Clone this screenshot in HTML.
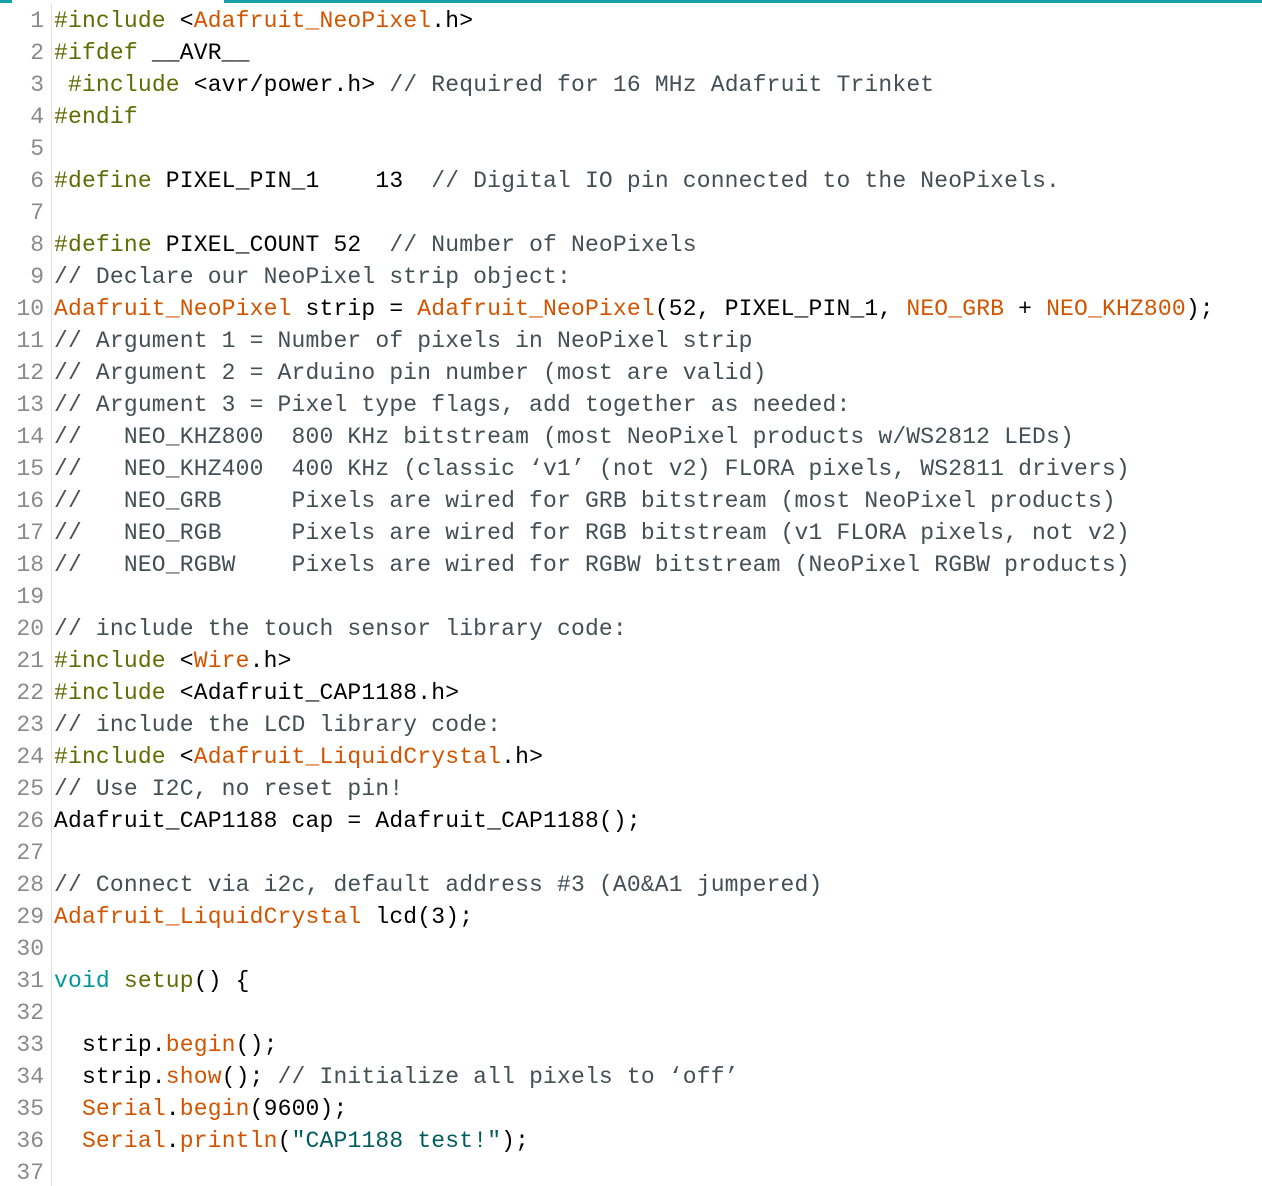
<!DOCTYPE html>
<html><head><meta charset="utf-8"><style>
html,body{margin:0;padding:0;background:#fff;width:1262px;height:1186px;overflow:hidden;position:relative}
.bar1{position:absolute;left:0;top:0;width:12px;height:3px;background:#17a1a5}
.bar2{position:absolute;left:224px;top:0;width:1038px;height:3px;background:#17a1a5}
.gut{position:absolute;left:51px;top:3px;width:1px;height:1183px;background:#e0e0e0}
pre{margin:0;position:absolute;top:5px;font-family:"Liberation Mono",monospace;font-size:23px;line-height:32px;letter-spacing:0.17px}
.nums{left:0;width:44px;text-align:right;color:#8a8a8a;letter-spacing:0}
.code{left:54px;color:#000}
.g{color:#5e6d03}.o{color:#d35400}.c{color:#434f54}.t{color:#00979c}.s{color:#005c5f}
</style></head><body>
<div class="bar1"></div><div class="bar2"></div><div class="gut"></div>
<pre class="nums">1
2
3
4
5
6
7
8
9
10
11
12
13
14
15
16
17
18
19
20
21
22
23
24
25
26
27
28
29
30
31
32
33
34
35
36
37</pre>
<pre class="code"><span class="g">#include</span> &lt;<span class="o">Adafruit_NeoPixel</span>.h&gt;
<span class="g">#ifdef</span> __AVR__
 <span class="g">#include</span> &lt;avr/power.h&gt; <span class="c">// Required for 16 MHz Adafruit Trinket</span>
<span class="g">#endif</span>

<span class="g">#define</span> PIXEL_PIN_1    13  <span class="c">// Digital IO pin connected to the NeoPixels.</span>

<span class="g">#define</span> PIXEL_COUNT 52  <span class="c">// Number of NeoPixels</span>
<span class="c">// Declare our NeoPixel strip object:</span>
<span class="o">Adafruit_NeoPixel</span> strip = <span class="o">Adafruit_NeoPixel</span>(52, PIXEL_PIN_1, <span class="o">NEO_GRB</span> + <span class="o">NEO_KHZ800</span>);
<span class="c">// Argument 1 = Number of pixels in NeoPixel strip</span>
<span class="c">// Argument 2 = Arduino pin number (most are valid)</span>
<span class="c">// Argument 3 = Pixel type flags, add together as needed:</span>
<span class="c">//   NEO_KHZ800  800 KHz bitstream (most NeoPixel products w/WS2812 LEDs)</span>
<span class="c">//   NEO_KHZ400  400 KHz (classic ‘v1’ (not v2) FLORA pixels, WS2811 drivers)</span>
<span class="c">//   NEO_GRB     Pixels are wired for GRB bitstream (most NeoPixel products)</span>
<span class="c">//   NEO_RGB     Pixels are wired for RGB bitstream (v1 FLORA pixels, not v2)</span>
<span class="c">//   NEO_RGBW    Pixels are wired for RGBW bitstream (NeoPixel RGBW products)</span>

<span class="c">// include the touch sensor library code:</span>
<span class="g">#include</span> &lt;<span class="o">Wire</span>.h&gt;
<span class="g">#include</span> &lt;Adafruit_CAP1188.h&gt;
<span class="c">// include the LCD library code:</span>
<span class="g">#include</span> &lt;<span class="o">Adafruit_LiquidCrystal</span>.h&gt;
<span class="c">// Use I2C, no reset pin!</span>
Adafruit_CAP1188 cap = Adafruit_CAP1188();

<span class="c">// Connect via i2c, default address #3 (A0&amp;A1 jumpered)</span>
<span class="o">Adafruit_LiquidCrystal</span> lcd(3);

<span class="t">void</span> <span class="g">setup</span>() {

  strip.<span class="o">begin</span>();
  strip.<span class="o">show</span>(); <span class="c">// Initialize all pixels to ‘off’</span>
  <span class="o">Serial</span>.<span class="o">begin</span>(9600);
  <span class="o">Serial</span>.<span class="o">println</span>(<span class="s">"CAP1188 test!"</span>);
</pre>
</body></html>
